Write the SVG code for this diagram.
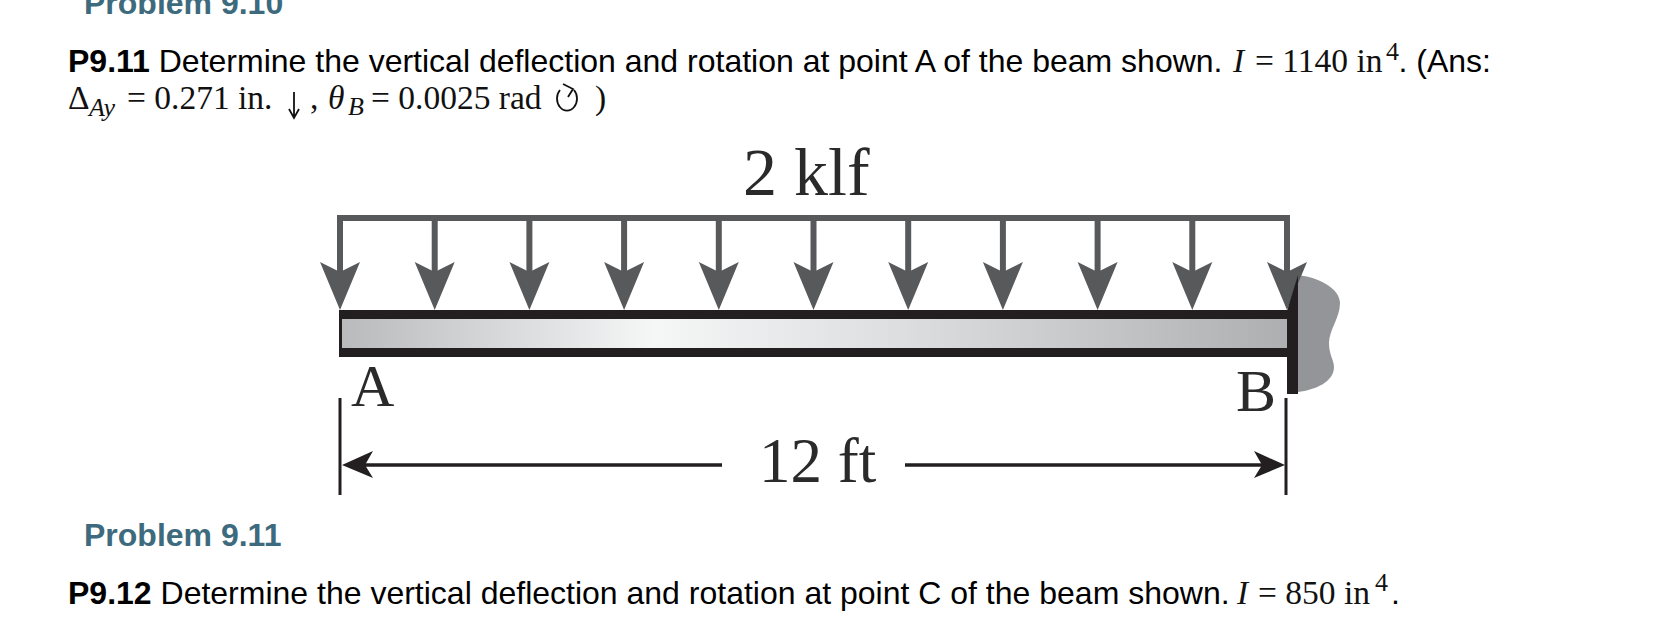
<svg xmlns="http://www.w3.org/2000/svg" width="1654" height="642" viewBox="0 0 1654 642">
<style>
.s{font-family:"Liberation Sans",Arial,sans-serif;font-size:32px;fill:#000}
.b{font-weight:700}
.m{font-family:"Liberation Serif","Times New Roman",serif;font-size:33.500px;fill:#111}
.i{font-style:italic}
.sub{font-size:26px}
.h{font-family:"Liberation Sans",Arial,sans-serif;font-size:32px;font-weight:700;fill:#3d6b7d}
.d{font-family:"Liberation Serif","Times New Roman",serif;fill:#2a2a2a}
.load{stroke:#58595b;stroke-width:6;fill:none}
.head{fill:#58595b}
.dim{stroke:#231f20;fill:none}
</style>
<defs>
<linearGradient id="g" x1="0" x2="1" y1="0" y2="0">
<stop offset="0" stop-color="#b8babc"/><stop offset="0.33" stop-color="#f5f6f6"/><stop offset="0.6" stop-color="#dcddde"/><stop offset="1" stop-color="#adafb1"/>
</linearGradient>
<path id="ah" class="head" d="M-20 0L0 10L20 0L0 48Z"/>
</defs>
<g id="problem-9-10"><text class="h" x="84" y="14">Problem 9.10</text></g>
<g id="p911">
<text class="s" x="68" y="72"><tspan class="b">P9.11</tspan> Determine the vertical deflection and rotation at point A of the beam shown.</text>
<text class="m i" x="1233" y="72">I</text><text class="m" x="1255" y="72">= 1140 in</text><text class="m sub" x="1386" y="60">4</text>
<text class="s" x="1491" y="72" text-anchor="end">. (Ans:</text>
<text class="m" x="68" y="109">Δ</text><text class="m i sub" x="89" y="116">Ay</text>
<text class="m" x="127" y="109">= 0.271 in.</text>
<text class="m" x="310" y="109">,</text>
<text class="m i" x="328" y="109">θ</text><text class="m i sub" x="348" y="115">B</text>
<text class="m" x="371" y="109">= 0.0025 rad</text>
<text class="m" x="595" y="109">)</text>
<path d="M294 92V117M289 109L294 118L299 109" fill="none" stroke="#111" stroke-width="1.800"/>
<path d="M560 90A10 12 0 1 0 574 90M563 84L573 89L568 97" fill="none" stroke="#111" stroke-width="1.800"/>
</g>
<g id="wall">
<path d="M1298 275C1322 278 1340 290 1340 303C1340 318 1329 330 1329 343C1329 355 1334 360 1334 367C1334 382 1315 390 1298 392Z" fill="#939598"/>
</g>
<g id="load">
<path class="load" d="M340 275V218H1287V275"/>
<path class="load" d="M434.700 218V275M529.400 218V275M624.100 218V275M718.800 218V275M813.500 218V275M908.200 218V275M1002.900 218V275M1097.600 218V275M1192.300 218V275"/>
<use href="#ah" x="340" y="262"/><use href="#ah" x="434.700" y="262"/><use href="#ah" x="529.400" y="262"/><use href="#ah" x="624.100" y="262"/><use href="#ah" x="718.800" y="262"/><use href="#ah" x="813.500" y="262"/><use href="#ah" x="908.200" y="262"/><use href="#ah" x="1002.900" y="262"/><use href="#ah" x="1097.600" y="262"/><use href="#ah" x="1192.300" y="262"/><use href="#ah" x="1287" y="262"/>
<text class="d" x="743" y="195" font-size="68">2 klf</text>
</g>
<g id="beam">
<rect x="339" y="310" width="949" height="47" fill="#231f20"/>
<rect x="342" y="319" width="945" height="29" fill="url(#g)"/>
<path d="M1287 311L1298 275V394H1287Z" fill="#231f20"/>
</g>
<g id="labels">
<text class="d" x="351" y="406" font-size="60">A</text>
<text class="d" x="1236" y="411" font-size="60">B</text>
<text class="d" x="759" y="482" font-size="63">12 ft</text>
</g>
<g id="connectors">
<path class="dim" stroke-width="3" d="M340 398V495M1286 398V495"/>
<path class="dim" stroke-width="3.500" d="M365 465H722M905 465H1262"/>
<path fill="#231f20" d="M342 465L373 451L365 465L373 478ZM1285 465L1254 451L1262 465L1254 478Z"/>
</g>
<g id="problem-9-11"><text class="h" x="84" y="546">Problem 9.11</text></g>
<g id="p912">
<text class="s" x="68" y="604"><tspan class="b">P9.12</tspan> Determine the vertical deflection and rotation at point C of the beam shown.</text>
<text class="m i" x="1237" y="604">I</text><text class="m" x="1258" y="604">= 850 in</text><text class="m sub" x="1375" y="591">4</text>
<text class="s" x="1391" y="604">.</text>
</g>
</svg>
